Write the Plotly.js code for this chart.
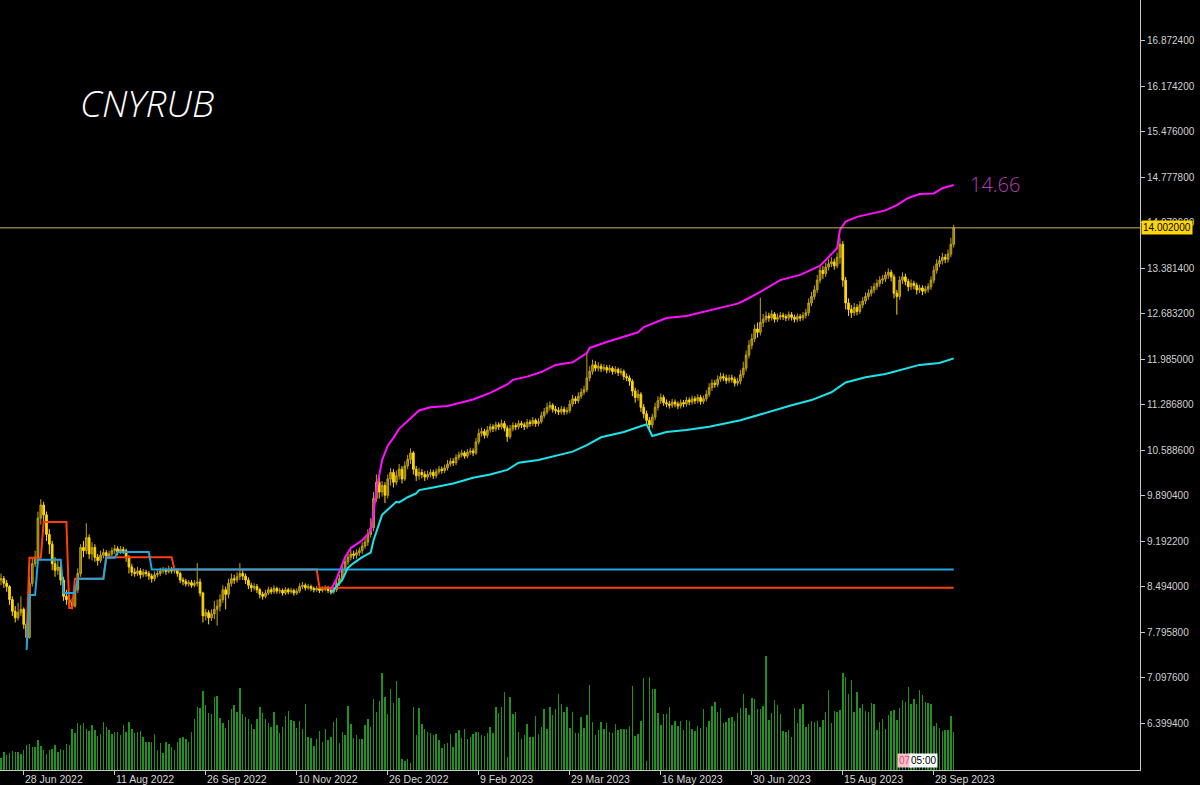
<!DOCTYPE html>
<html>
<head>
<meta charset="utf-8">
<script src="https://cdn.plot.ly/plotly-3.0.1.min.js"></script>
<style>
html,body{margin:0;padding:0;background:#000;}
#chart{width:1200px;height:785px;}
</style>
</head>
<body>
<div id="chart"></div>
<script>
// ---------- DATA ----------
const symbol = 'CNYRUB';
const dateTickBars = [8,40,72,104,136,168,200,232,264,296,328];
const dateTickLabels = ['28 Jun 2022','11 Aug 2022','26 Sep 2022','10 Nov 2022','26 Dec 2022','9 Feb 2023','29 Mar 2023','16 May 2023','30 Jun 2023','15 Aug 2023','28 Sep 2023'];
const priceTicks = [6.3994,7.0976,7.7958,8.494,9.1922,9.8904,10.5886,11.2868,11.985,12.6832,13.3814,14.0796,14.7778,15.476,16.1742,16.8724];

const firstOpen = 8.60;
const close = [
8.62,8.55,8.50,8.30,8.12,8.02,8.10,8.15,7.92,7.72,
8.55,8.85,8.95,9.55,9.75,9.60,9.30,9.15,8.85,8.75,
8.80,8.60,8.35,8.30,8.25,8.20,8.45,8.70,9.10,9.05,
9.25,9.00,9.10,8.95,8.90,8.98,9.02,8.97,9.00,9.05,
9.08,9.03,9.07,9.05,8.95,8.80,8.72,8.70,8.74,8.68,
8.72,8.70,8.66,8.62,8.68,8.70,8.74,8.76,8.73,8.77,
8.74,8.76,8.70,8.60,8.58,8.54,8.56,8.52,8.55,8.57,
8.40,8.05,8.10,8.02,8.08,8.15,8.20,8.30,8.45,8.38,
8.55,8.62,8.60,8.65,8.70,8.66,8.60,8.52,8.48,8.50,
8.45,8.38,8.35,8.40,8.45,8.42,8.47,8.43,8.44,8.40,
8.45,8.42,8.44,8.40,8.43,8.50,8.52,8.48,8.50,8.47,
8.45,8.47,8.44,8.46,8.48,8.44,8.42,8.45,8.55,8.62,
8.75,8.88,8.95,9.00,8.98,9.02,9.05,9.12,9.18,9.30,
9.40,9.85,10.10,9.95,10.05,9.90,10.15,10.25,10.10,10.20,
10.30,10.15,10.35,10.45,10.55,10.30,10.20,10.25,10.22,10.18,
10.22,10.25,10.20,10.26,10.30,10.28,10.32,10.38,10.42,10.40,
10.48,10.52,10.55,10.50,10.56,10.58,10.55,10.72,10.85,10.88,
10.82,10.90,10.95,10.92,10.98,10.95,11.00,10.93,10.80,10.92,
10.97,10.95,11.00,10.98,10.95,11.02,11.00,11.05,11.00,11.03,
11.12,11.18,11.25,11.28,11.22,11.20,11.18,11.22,11.18,11.20,
11.30,11.38,11.35,11.42,11.48,11.52,11.70,11.80,11.90,11.85,
11.88,11.84,11.86,11.82,11.85,11.80,11.83,11.78,11.80,11.72,
11.70,11.65,11.50,11.40,11.45,11.25,11.15,11.05,10.98,11.10,
11.25,11.35,11.40,11.32,11.30,11.28,11.33,11.30,11.27,11.32,
11.30,11.36,11.33,11.38,11.35,11.40,11.34,11.38,11.45,11.55,
11.62,11.60,11.68,11.72,11.70,11.66,11.70,11.68,11.62,11.65,
11.75,11.85,12.05,12.20,12.30,12.45,12.40,12.55,12.60,12.65,
12.62,12.68,12.60,12.63,12.66,12.64,12.62,12.67,12.63,12.60,
12.64,12.62,12.66,12.70,12.85,12.95,13.05,13.20,13.35,13.30,
13.40,13.45,13.48,13.42,13.55,13.75,13.20,12.85,12.75,12.70,
12.78,12.72,12.82,12.88,12.95,13.00,13.05,13.10,13.15,13.20,
13.22,13.28,13.32,13.25,13.00,12.95,13.20,13.25,13.18,13.10,
13.15,13.12,13.05,13.08,13.03,13.06,13.10,13.20,13.35,13.45,
13.50,13.55,13.52,13.60,13.75,14.002
];
const high = [
8.70,8.66,8.60,8.52,8.35,8.20,8.25,8.35,8.18,7.95,
8.65,8.95,9.05,9.65,9.84,9.80,9.65,9.38,9.20,8.95,
8.92,8.85,8.65,8.45,8.38,8.32,8.55,8.78,9.15,9.20,
9.47,9.30,9.18,9.15,9.00,9.05,9.08,9.06,9.05,9.10,
9.14,9.12,9.12,9.11,9.08,8.98,8.85,8.78,8.80,8.78,
8.77,8.76,8.74,8.70,8.73,8.75,8.79,8.80,8.79,8.82,
8.80,8.80,8.78,8.73,8.64,8.62,8.60,8.60,8.60,8.86,
8.62,8.42,8.16,8.14,8.15,8.28,8.30,8.38,8.52,8.50,
8.62,8.70,8.68,8.72,8.86,8.76,8.70,8.64,8.56,8.55,
8.54,8.48,8.42,8.45,8.50,8.49,8.52,8.50,8.48,8.47,
8.49,8.48,8.48,8.47,8.47,8.55,8.57,8.55,8.54,8.53,
8.50,8.51,8.50,8.50,8.52,8.51,8.47,8.49,8.60,8.68,
8.82,8.94,9.02,9.06,9.05,9.07,9.10,9.18,9.25,9.38,
9.55,9.95,10.22,10.18,10.12,10.10,10.22,10.32,10.30,10.28,
10.38,10.35,10.42,10.52,10.62,10.58,10.35,10.32,10.30,10.27,
10.28,10.30,10.29,10.31,10.35,10.34,10.37,10.44,10.47,10.47,
10.53,10.57,10.60,10.58,10.61,10.63,10.62,10.78,10.92,10.94,
10.92,10.96,11.00,10.99,11.03,11.02,11.06,11.04,10.97,10.98,
11.02,11.01,11.05,11.04,11.02,11.07,11.06,11.10,11.08,11.08,
11.18,11.24,11.32,11.34,11.31,11.27,11.25,11.27,11.26,11.25,
11.36,11.44,11.42,11.48,11.54,11.58,12.10,11.88,11.98,11.96,
11.94,11.92,11.91,11.90,11.90,11.88,11.88,11.86,11.85,11.83,
11.77,11.74,11.68,11.55,11.52,11.48,11.30,11.20,11.10,11.15,
11.32,11.42,11.46,11.44,11.37,11.35,11.38,11.37,11.34,11.37,
11.36,11.41,11.40,11.43,11.42,11.45,11.44,11.43,11.51,11.62,
11.68,11.67,11.74,11.78,11.77,11.75,11.75,11.75,11.72,11.70,
11.82,11.95,12.12,12.28,12.38,12.52,12.55,12.93,12.68,12.72,
12.70,12.74,12.71,12.69,12.71,12.70,12.68,12.72,12.71,12.67,
12.69,12.68,12.71,12.76,12.92,13.02,13.12,13.28,13.42,13.42,
13.47,13.52,13.55,13.53,13.62,13.85,13.80,13.25,12.92,12.82,
12.85,12.83,12.88,12.94,13.01,13.06,13.11,13.16,13.21,13.26,
13.28,13.33,13.38,13.36,13.29,13.05,13.26,13.32,13.30,13.22,
13.21,13.19,13.16,13.13,13.12,13.11,13.15,13.26,13.42,13.52,
13.57,13.62,13.60,13.67,13.85,14.05
];
const low = [
8.52,8.48,8.42,8.22,8.05,7.95,7.98,8.05,7.85,7.53,
7.70,8.50,8.80,8.90,9.45,9.50,9.20,9.00,8.75,8.65,
8.68,8.52,8.28,8.22,8.18,8.15,8.18,8.40,8.65,8.95,
9.00,8.92,8.90,8.88,8.82,8.86,8.93,8.92,8.93,8.96,
9.00,8.98,9.00,9.00,8.88,8.70,8.66,8.65,8.66,8.62,
8.64,8.65,8.60,8.56,8.58,8.64,8.66,8.70,8.68,8.70,
8.70,8.70,8.65,8.55,8.52,8.50,8.50,8.48,8.49,8.50,
8.35,7.95,7.98,7.92,7.97,8.00,7.90,8.12,8.25,8.15,
8.32,8.50,8.54,8.56,8.60,8.60,8.54,8.46,8.42,8.44,
8.40,8.32,8.30,8.32,8.37,8.38,8.39,8.39,8.39,8.36,
8.37,8.38,8.39,8.36,8.37,8.40,8.46,8.44,8.45,8.43,
8.41,8.42,8.40,8.41,8.43,8.40,8.38,8.39,8.42,8.51,
8.58,8.70,8.83,8.90,8.92,8.93,8.97,9.00,9.08,9.12,
9.25,9.35,9.80,9.85,9.88,9.78,9.85,10.05,10.02,10.05,
10.14,10.08,10.12,10.30,10.38,10.22,10.12,10.14,10.16,10.12,
10.14,10.17,10.15,10.16,10.22,10.23,10.24,10.28,10.34,10.35,
10.36,10.44,10.48,10.46,10.47,10.52,10.50,10.52,10.68,10.80,
10.77,10.78,10.86,10.87,10.88,10.90,10.91,10.88,10.72,10.76,
10.88,10.90,10.91,10.93,10.90,10.92,10.95,10.96,10.95,10.96,
11.00,11.08,11.14,11.20,11.17,11.15,11.13,11.14,11.13,11.14,
11.16,11.26,11.30,11.31,11.38,11.44,11.48,11.65,11.75,11.80,
11.80,11.79,11.80,11.77,11.78,11.75,11.76,11.73,11.74,11.67,
11.65,11.58,11.42,11.32,11.35,11.18,11.08,10.98,10.92,10.93,
11.05,11.20,11.30,11.27,11.25,11.23,11.24,11.25,11.22,11.23,
11.25,11.26,11.28,11.29,11.30,11.31,11.29,11.30,11.34,11.41,
11.50,11.55,11.56,11.64,11.65,11.61,11.62,11.63,11.57,11.58,
11.60,11.70,11.80,12.00,12.14,12.25,12.32,12.35,12.48,12.55,
12.56,12.58,12.55,12.56,12.59,12.59,12.57,12.58,12.58,12.55,
12.56,12.57,12.58,12.61,12.65,12.80,12.90,13.00,13.15,13.22,
13.25,13.35,13.40,13.36,13.38,13.45,13.10,12.75,12.65,12.62,
12.65,12.66,12.68,12.77,12.83,12.90,12.95,13.00,13.05,13.10,
13.14,13.17,13.22,13.18,12.92,12.67,12.90,13.14,13.12,13.03,
13.05,13.06,12.98,13.00,12.97,12.99,13.01,13.05,13.15,13.30,
13.40,13.44,13.46,13.47,13.55,13.70
];
const volume = [
12,18,15,17,19,18,18,16,20,25,
26,23,23,30,24,20,16,20,21,25,
18,21,20,26,25,41,37,47,45,47,
41,39,45,40,34,36,48,43,40,36,
38,38,35,45,38,48,41,37,38,39,
33,28,28,28,36,20,27,17,28,26,
23,20,28,32,33,31,28,38,51,63,
62,79,65,57,56,73,74,52,47,42,
50,61,65,58,82,56,53,51,46,41,
51,63,57,51,47,43,58,45,37,43,
54,59,50,49,42,49,41,66,33,32,
24,31,39,28,41,30,33,48,52,27,
38,35,64,46,32,35,31,31,45,51,
43,71,58,69,97,73,56,81,67,89,
72,11,9,11,7,63,35,62,46,41,
38,37,35,36,30,22,26,27,36,23,
37,40,32,41,31,33,36,38,38,
35,34,37,43,37,63,57,63,78,13,
73,56,58,38,31,35,46,33,33,54,
36,43,61,41,63,55,61,76,66,58,
63,42,58,37,37,53,42,55,85,48,
35,40,48,41,47,38,37,46,40,41,
41,41,44,84,34,36,49,92,9,93,
81,81,57,45,56,56,63,45,49,44,
49,40,50,49,41,39,44,42,61,43,
49,64,68,58,62,47,48,52,53,49,
57,62,76,62,55,72,71,61,61,64,
114,50,57,70,65,56,39,38,40,33,
62,47,61,66,43,46,49,48,49,43,
50,58,80,47,59,58,60,97,93,76,
90,58,78,62,66,59,58,67,66,40,
48,51,41,55,59,60,50,62,70,68,
83,66,71,66,80,75,68,67,66,44,
47,42,39,40,40,54,38
];

// upper (magenta) and lower (cyan) channel, bar index -> value
const upperBandBar = [116,118,121,123,127,130,131,132,134,136,138,140,144,147,151,157,166,172,178,180,185,190,195,201,206,207,213,220,224,226,234,241,249,259,261,267,274,281,285,288,290,294,295,297,301,307,311,315,319,323,328,331,335];
const upperBandVal = [8.45,8.62,8.95,9.09,9.21,9.35,9.63,9.98,10.44,10.66,10.78,10.92,11.08,11.20,11.25,11.27,11.37,11.47,11.60,11.67,11.72,11.79,11.90,11.94,12.08,12.16,12.25,12.35,12.40,12.48,12.62,12.65,12.73,12.84,12.88,13.02,13.20,13.28,13.36,13.42,13.51,13.69,13.97,14.10,14.17,14.23,14.27,14.35,14.46,14.52,14.53,14.61,14.66];
const lowerBandBar = [116,120,122,124,127,130,131,133,134,137,139,140,143,146,147,152,159,166,172,178,182,189,194,201,206,211,219,227,229,232,234,241,249,260,269,278,285,292,297,304,311,316,323,330,335];
const lowerBandVal = [8.40,8.60,8.79,8.86,8.95,9.02,9.21,9.45,9.60,9.72,9.80,9.79,9.87,9.93,9.98,10.02,10.08,10.17,10.22,10.29,10.40,10.44,10.49,10.57,10.67,10.79,10.87,10.99,10.81,10.84,10.87,10.90,10.95,11.05,11.17,11.28,11.36,11.48,11.63,11.71,11.76,11.82,11.90,11.93,12.00];
// step lines (orange-red and blue), bar index -> value
const redStepBar = [9,10,14,15,23,24,25,26,36,37,60,61,111,112,335];
const redStepVal = [7.71,8.94,8.94,9.49,9.49,8.17,8.17,8.62,8.62,8.95,8.95,8.76,8.76,8.48,8.48];
const blueStepBar = [9,10,12,13,21,22,26,27,36,37,40,41,52,53,335];
const blueStepVal = [7.53,8.37,8.37,8.91,8.91,8.40,8.40,8.62,8.62,8.94,8.94,9.03,9.03,8.76,8.76];

// ---------- BUILD ----------
const n = close.length;
const bars = close.map((_, i) => i);
const open = close.map((c, i) => i === 0 ? firstOpen : close[i - 1]);
const volBars = volume.map((_, i) => i);
const lastPrice = close[n - 1];
const lastUpper = upperBandVal[upperBandVal.length - 1];

const AX = '#c8c8c8';
const FONT = 'Liberation Sans, Arial, sans-serif';

const traces = [
  {type:'bar', x: volBars, y: volume, yaxis:'y2', width:0.5,
   marker:{color:'#1f921f', line:{width:0}}, hoverinfo:'skip'},
  {type:'candlestick', x: bars, open: open, high: high, low: low, close: close,
   increasing:{line:{color:'#c2a415', width:1}, fillcolor:'#85720a'},
   decreasing:{line:{color:'#ffd700', width:1}, fillcolor:'#ffd700'},
   whiskerwidth:0, hoverinfo:'skip'},
  {type:'scatter', mode:'lines', x: redStepBar, y: redStepVal,
   line:{color:'#ff3f0a', width:2}, hoverinfo:'skip'},
  {type:'scatter', mode:'lines', x: blueStepBar, y: blueStepVal,
   line:{color:'#22a6dd', width:2}, hoverinfo:'skip'},
  {type:'scatter', mode:'lines', x: lowerBandBar, y: lowerBandVal,
   line:{color:'#1de4ec', width:2}, hoverinfo:'skip'},
  {type:'scatter', mode:'lines', x: upperBandBar, y: upperBandVal,
   line:{color:'#ff10ff', width:2}, hoverinfo:'skip'}
];

const annotations = dateTickBars.map((b, k) => ({
  x: b, xref:'x', y: 0, yref:'paper', yanchor:'top', xanchor:'left', yshift:-1, xshift:-1,
  text: dateTickLabels[k], showarrow:false,
  font:{family:FONT, size:10.5, color:'#d8d8d8'}
}));
annotations.push({
  x: 78/1140, xref:'paper', y: 1 - 103/770, yref:'paper', xanchor:'left', yanchor:'middle',
  text: symbol, showarrow:false,
  font:{family:'Open Sans, sans-serif', size:37, color:'#ffffff', style:'italic', weight:300}
});
annotations.push({
  x: upperBandBar[upperBandBar.length - 1], xref:'x', y: lastUpper, yref:'y',
  xanchor:'left', yanchor:'middle', xshift:14,
  text: lastUpper.toFixed(2), showarrow:false,
  font:{family:'Open Sans, sans-serif', size:20, color:'#b23fb4', weight:300}
});
annotations.push({
  x: 1, xref:'paper', y: lastPrice, yref:'y', xanchor:'left', yanchor:'middle', xshift:1,
  text: lastPrice.toFixed(6), showarrow:false, bgcolor:'#ffd700', borderpad:1,
  font:{family:FONT, size:10, color:'#000000'}
});
annotations.push({
  x: 897/1140, xref:'paper', y: 10/770, yref:'paper', xanchor:'left', yanchor:'middle',
  text:'07', showarrow:false, bgcolor:'#ffc0cb', borderpad:1,
  font:{family:FONT, size:10, color:'#d05070'}
});
annotations.push({
  x: 909/1140, xref:'paper', y: 10/770, yref:'paper', xanchor:'left', yanchor:'middle',
  text:'05:00', showarrow:false, bgcolor:'#ffffff', borderpad:1,
  font:{family:FONT, size:10, color:'#000000'}
});

const layout = {
  width:1200, height:785,
  paper_bgcolor:'#000000', plot_bgcolor:'#000000',
  margin:{l:0, r:60, t:0, b:15},
  showlegend:false,
  bargap:0,
  boxgap:0.15,
  xaxis:{
    range:[-0.35, 400.5], showgrid:false, zeroline:false,
    showline:true, linecolor:AX, linewidth:1,
    ticks:'outside', ticklen:4, tickcolor:AX, tickvals:dateTickBars,
    showticklabels:false, rangeslider:{visible:false}, fixedrange:true
  },
  yaxis:{
    side:'right', range:[5.686, 17.497], showgrid:false, zeroline:false,
    showline:true, linecolor:AX, linewidth:1,
    ticks:'outside', ticklen:4, tickcolor:AX,
    tickvals:priceTicks, ticktext:priceTicks.map(v => v.toFixed(6)),
    tickfont:{family:FONT, size:10, color:'#d0d0d0'}, fixedrange:true
  },
  yaxis2:{overlaying:'y', range:[0, 770], visible:false, fixedrange:true},
  shapes:[{type:'line', xref:'paper', x0:0, x1:1, yref:'y', y0:lastPrice, y1:lastPrice,
           line:{color:'#cdb25a', width:1}}],
  annotations: annotations
};

Plotly.newPlot('chart', traces, layout, {displayModeBar:false, staticPlot:true});
</script>
</body>
</html>
